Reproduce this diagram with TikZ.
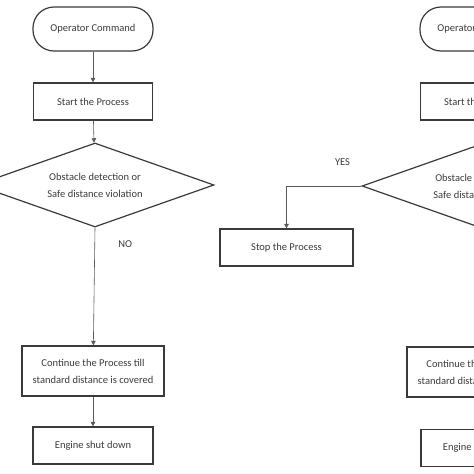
\documentclass[tikz,border=0pt]{standalone}
\usepackage{fontspec}
\setmainfont{Carlito}
\usetikzlibrary{shapes.geometric,arrows.meta}
\definecolor{ink}{HTML}{3A3A3A}
\definecolor{wire}{HTML}{5A5A5A}
\begin{document}
\begin{tikzpicture}[x=1pt,y=-1pt,
        font=\fontsize{10.5}{17}\selectfont, text=ink,
        box/.style={draw=ink,line width=1.2pt,align=center,inner sep=0pt},
        term/.style={box,rounded corners=21pt},
        decide/.style={box,diamond,aspect=2.83,minimum width=238pt,minimum height=84pt},
        flow/.style={draw=wire,line width=0.6pt,-{Triangle[width=4.5pt,length=4.5pt]}}]
            \clip (0,0) rectangle (474,474);

            % Place the left chart
            \node[term,minimum width=120pt,minimum height=44pt] (cmd) at (93,29) {Operator Command};
            \node[box,minimum width=119pt,minimum height=37pt] (start) at (93,101.5) {Start the Process};
            \node[decide] (dec) at (95,185) {Obstacle detection or\\Safe distance violation};
            \node[box,minimum width=142pt,minimum height=50pt] (cont) at (93,371) {Continue the Process till\\standard distance is covered};
            \node[box,minimum width=120pt,minimum height=37pt] (eng) at (93,445.5) {Engine shut down};
            \node[box,minimum width=133pt,minimum height=37pt] (stop) at (286.5,247.5) {Stop the Process};

            % Place the right chart
            \node[term,minimum width=120pt,minimum height=44pt] (cmd2) at (480,29) {Operator Command};
            \node[box,minimum width=119pt,minimum height=37pt] (start2) at (480,101.5) {Start the Process};
            \node[decide] (dec2) at (481,186) {Obstacle detection or\\Safe distance violation};
            \node[box,minimum width=142pt,minimum height=50pt] (cont2) at (478,372) {Continue the Process till\\standard distance is covered};
            \node[box,minimum width=120pt,minimum height=37pt] (eng2) at (481,448) {Engine shut down};

            % The lines!
            \draw[flow] (cmd) -- (start);
            \draw[flow] (start) -- (dec);
            \draw[flow] (dec.south) -- node[pos=0.14,right=20pt] {NO} (cont);
            \draw[flow] (cont) -- (eng);
            \draw[flow] (dec2.west) -| node[pos=0.126,above=17pt] {YES} (stop.north);
        \end{tikzpicture}
\end{document}
